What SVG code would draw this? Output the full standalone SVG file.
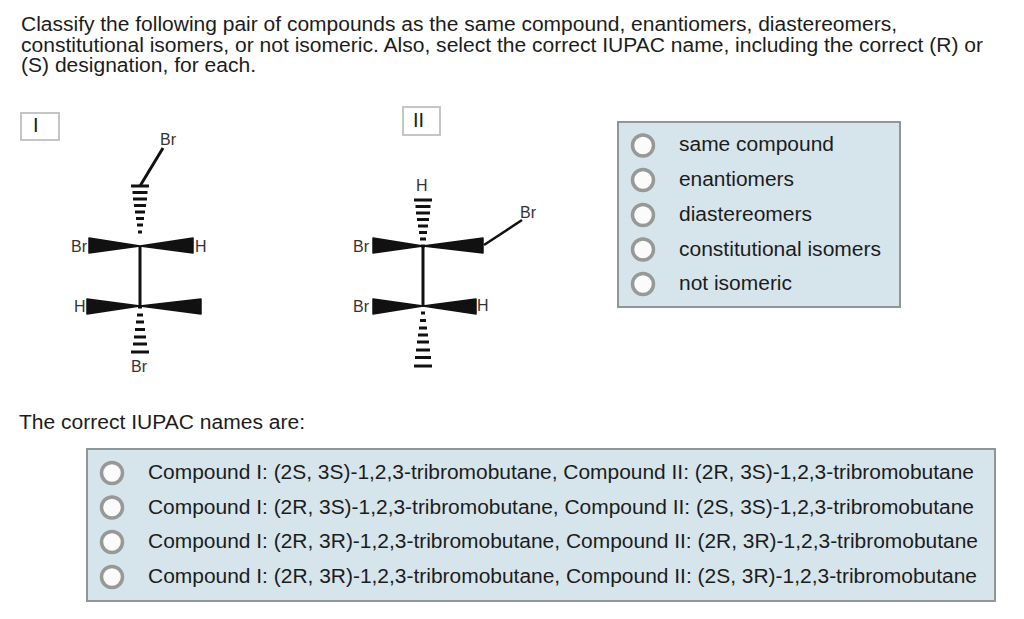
<svg xmlns="http://www.w3.org/2000/svg" width="1024" height="619" viewBox="0 0 1024 619">
<style>
text{font-family:"Liberation Sans",Arial,sans-serif;fill:#1c1c1c;font-size:20px}
.a{font-size:16px;fill:#333}
.box{fill:#d6e5ec;stroke:#8f9696;stroke-width:2}
.lab{fill:#fff;stroke:#c4c6c4;stroke-width:2}
.r{fill:#fbfbfb;stroke:#979997;stroke-width:3.5}
.b{stroke:#111;stroke-width:3;fill:none}
.w{fill:#111;stroke:#111;stroke-width:1.5;stroke-linejoin:round}
.h{stroke:#111;stroke-linecap:butt;stroke-width:2.800;fill:none}
</style>
<defs>
<path id="hashUp" class="h" d="M-9 0H9M-7.500 6.500H7.500M-7 13H7M-6 19.500H6M-5 26H5M-4 32.500H4M-3 39H3M-2 46H2"/>
<path id="hashDown" class="h" d="M-2 0H2M-3 7.500H3M-4 15H4M-5 22H5M-6 29H6M-7 37H7M-8 44.500H8M-9 53H9"/>
<path id="hashDownShort" class="h" d="M-2 0H2M-3 8H3M-4 15H4M-5 22.500H5M-6 30H6M-7 37H7M-9 45H9"/>
</defs>
<g id="question">
<text x="21" y="31" textLength="876" lengthAdjust="spacingAndGlyphs">Classify the following pair of compounds as the same compound, enantiomers, diastereomers,</text>
<text x="21" y="52" textLength="962" lengthAdjust="spacingAndGlyphs">constitutional isomers, or not isomeric. Also, select the correct IUPAC name, including the correct (R) or</text>
<text x="21" y="72" textLength="235" lengthAdjust="spacingAndGlyphs">(S) designation, for each.</text>
</g>
<g id="label-I"><rect class="lab" x="21" y="113" width="38" height="27"/><text x="33" y="132" font-weight="400">I</text></g>
<g id="label-II"><rect class="lab" x="403" y="107" width="37" height="28"/><text x="413" y="127">II</text></g>
<g id="compound-I">
<use href="#hashUp" x="140" y="186"/>
<use href="#hashDownShort" x="140" y="307"/>
<path class="b" d="M140 246V306M140 186L163 148"/>
<text class="a" x="160" y="145">Br</text>
<text class="a" x="71" y="252">Br</text>
<text class="a" x="195" y="252">H</text>
<text class="a" x="74" y="312">H</text>
<text class="a" x="131" y="372">Br</text>
<path class="w" d="M140 246L89 238V253ZM140 246L193 238V253ZM140 306L87 299V314ZM140 306L201 299V314Z"/>
</g>
<g id="compound-II">
<use href="#hashUp" x="423" y="200"/>
<use href="#hashDown" x="423" y="313"/>
<path class="b" d="M423 246V306"/>
<path d="M484 245L522 220" stroke="#111" stroke-width="2.500"/>
<text class="a" x="416" y="191">H</text>
<text class="a" x="520" y="218">Br</text>
<text class="a" x="353" y="252">Br</text>
<text class="a" x="353" y="312">Br</text>
<text class="a" x="477" y="311">H</text>
<path class="w" d="M423 246L373 238V253ZM423 246L483 238V253ZM423 306L373 299V314ZM423 306L476 299V314Z"/>
</g>
<g id="classification">
<rect class="box" x="618" y="122" width="282" height="185"/>
<circle class="r" cx="643" cy="145.500" r="10.500"/>
<circle class="r" cx="643" cy="180" r="10.500"/>
<circle class="r" cx="643" cy="215" r="10.500"/>
<circle class="r" cx="643" cy="249.500" r="10.500"/>
<circle class="r" cx="643" cy="284" r="10.500"/>
<text x="679" y="151" textLength="155" lengthAdjust="spacingAndGlyphs">same compound</text>
<text x="679" y="186" textLength="115" lengthAdjust="spacingAndGlyphs">enantiomers</text>
<text x="679" y="221" textLength="133" lengthAdjust="spacingAndGlyphs">diastereomers</text>
<text x="679" y="256" textLength="202" lengthAdjust="spacingAndGlyphs">constitutional isomers</text>
<text x="679" y="290" textLength="113" lengthAdjust="spacingAndGlyphs">not isomeric</text>
</g>
<g id="names-heading"><text x="19" y="429" textLength="286" lengthAdjust="spacingAndGlyphs">The correct IUPAC names are:</text></g>
<g id="names">
<rect class="box" x="87" y="449" width="908" height="152"/>
<circle class="r" cx="112" cy="473" r="10.500"/>
<circle class="r" cx="112" cy="507.500" r="10.500"/>
<circle class="r" cx="112" cy="542" r="10.500"/>
<circle class="r" cx="112" cy="577" r="10.500"/>
<text x="148" y="479" textLength="826" lengthAdjust="spacingAndGlyphs">Compound I: (2S, 3S)-1,2,3-tribromobutane, Compound II: (2R, 3S)-1,2,3-tribromobutane</text>
<text x="148" y="514" textLength="826" lengthAdjust="spacingAndGlyphs">Compound I: (2R, 3S)-1,2,3-tribromobutane, Compound II: (2S, 3S)-1,2,3-tribromobutane</text>
<text x="148" y="548" textLength="830" lengthAdjust="spacingAndGlyphs">Compound I: (2R, 3R)-1,2,3-tribromobutane, Compound II: (2R, 3R)-1,2,3-tribromobutane</text>
<text x="148" y="583" textLength="829" lengthAdjust="spacingAndGlyphs">Compound I: (2R, 3R)-1,2,3-tribromobutane, Compound II: (2S, 3R)-1,2,3-tribromobutane</text>
</g>
</svg>
